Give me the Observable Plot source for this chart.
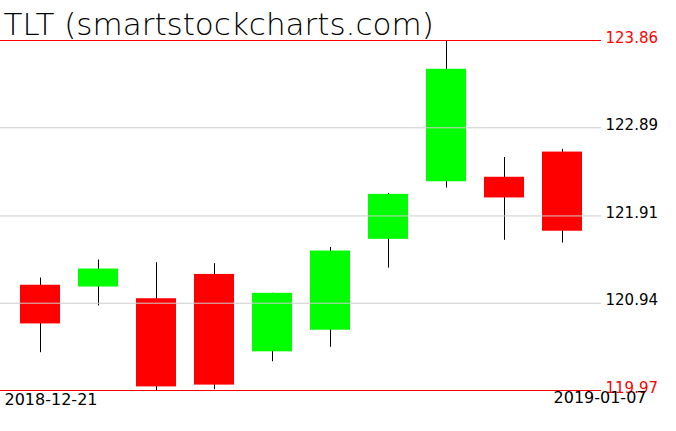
<!DOCTYPE html>
<html>
<head>
<meta charset="utf-8">
<script src="https://cdn.jsdelivr.net/npm/d3@7"></script>
<script src="https://cdn.jsdelivr.net/npm/@observablehq/plot@0.6"></script>
<style>
  html, body { margin: 0; padding: 0; background: #fff; }
  svg { display: block; }
</style>
</head>
<body>
<div id="chart"></div>
<script>
const dates = ["2018-12-21","2018-12-24","2018-12-26","2018-12-27","2018-12-28","2018-12-31","2019-01-02","2019-01-03","2019-01-04","2019-01-07"];
const open  = [121.14, 121.12, 120.99, 121.26, 120.40, 120.64, 121.65, 122.29, 122.34, 122.62];
const high  = [121.22, 121.42, 121.39, 121.38, 121.05, 121.56, 122.16, 123.86, 122.56, 122.65];
const low   = [120.39, 120.91, 119.97, 119.98, 120.29, 120.45, 121.33, 122.22, 121.64, 121.61];
const close = [120.71, 121.32, 120.01, 120.03, 121.05, 121.52, 122.15, 123.54, 122.11, 121.74];

const gridLevels = [122.89, 121.91, 120.94];
const extremeLevels = [123.86, 119.97];
const title = "TLT (smartstockcharts.com)";

const data = dates.map((d, i) => ({date: d, open: open[i], high: high[i], low: low[i], close: close[i]}));
const fmt = d3.format(".2f");
const font = "DejaVu Sans";

const chart = Plot.plot({
  width: 676,
  height: 431,
  marginTop: 0,
  marginLeft: 0,
  marginRight: 75,
  marginBottom: 41,
  style: {fontFamily: font, background: "#fff", overflow: "visible"},
  x: {type: "band", domain: dates, range: [19, 582], paddingInner: 0.3117, paddingOuter: 0, axis: null},
  y: {domain: [119.97, 123.86], range: [390, 40], axis: null},
  marks: [
    Plot.ruleX(data, {x: "date", y1: "low", y2: "high", stroke: "#000", strokeWidth: 1}),
    Plot.barY(data, {x: "date", y1: "open", y2: "close", fill: d => d.close >= d.open ? "#00ff00" : "#ff0000"}),
    Plot.ruleY(gridLevels, {stroke: "#cccccc", strokeWidth: 1}),
    Plot.ruleY(extremeLevels, {stroke: "#ff0000", strokeWidth: 1}),
    Plot.text(gridLevels, {y: d => d, text: d => fmt(d), frameAnchor: "right", textAnchor: "start", lineAnchor: "bottom", dx: 4, dy: 2, fontSize: 15, fill: "#000"}),
    Plot.text(extremeLevels, {y: d => d, text: d => fmt(d), frameAnchor: "right", textAnchor: "start", lineAnchor: "bottom", dx: 4, dy: 2, fontSize: 15, fill: "#ff0000"}),
    Plot.text([dates[0]], {text: d => d, frameAnchor: "bottom-left", textAnchor: "start", lineAnchor: "top", dx: 4, dy: 3, fontSize: 16, fill: "#000"}),
    Plot.text([dates[dates.length - 1]], {text: d => d, frameAnchor: "bottom-right", textAnchor: "end", lineAnchor: "top", dx: 45, dy: 1, fontSize: 16, fill: "#000"}),
    Plot.text([title], {text: d => d, frameAnchor: "top-left", textAnchor: "start", lineAnchor: "top", dx: 3, dy: 12, fontSize: 31, fontWeight: 200, fill: "#000"})
  ]
});
document.getElementById("chart").appendChild(chart);
</script>
</body>
</html>
